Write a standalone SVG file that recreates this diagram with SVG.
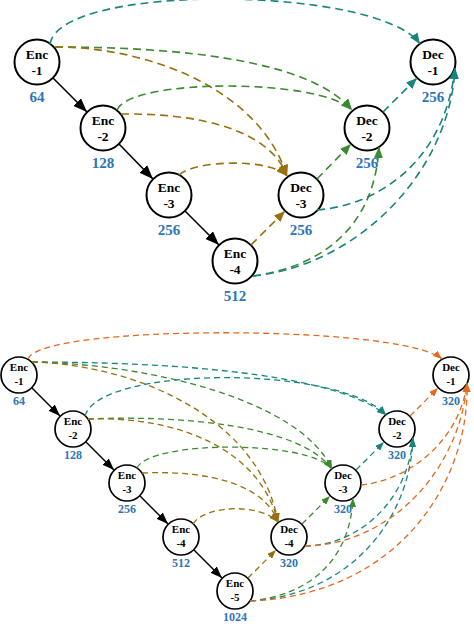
<svg xmlns="http://www.w3.org/2000/svg" width="474" height="641" viewBox="0 0 474 641">
<style>
.bg{fill:#fff}
circle{fill:#fff;stroke:#000}
.top circle{stroke-width:2}
.bot circle{stroke-width:1.7}
text{font-family:"Liberation Serif","Times New Roman",serif;font-weight:bold;text-anchor:middle}
.top .nm{font-size:13.5px;fill:#000}
.top .num{font-size:15px;fill:#2e75b6}
.bot .nm{font-size:11px;fill:#000}
.bot .num{font-size:12px;fill:#2e75b6}
.ct path,.cb path{fill:none}
.s{stroke:#000}
.ct .s{stroke-width:1.6}
.cb .s{stroke-width:1.4}
.ct .d{stroke-width:1.6;stroke-dasharray:8 5}
.cb .d{stroke-width:1.3;stroke-dasharray:6 4}
.teal{stroke:#17857b}
.green{stroke:#3b8a31}
.brown{stroke:#977010}
.orange{stroke:#e2691e}
</style>
<defs>
<marker id="tk" markerUnits="userSpaceOnUse" markerWidth="14" markerHeight="11" refX="14" refY="5.5" orient="auto"><path d="M0,0 L14,5.5 L0,11 z" fill="#000"/></marker>
<marker id="tt" markerUnits="userSpaceOnUse" markerWidth="11" markerHeight="9" refX="11" refY="4.5" orient="auto"><path d="M0,0 L11,4.5 L0,9 z" fill="#17857b"/></marker>
<marker id="tg" markerUnits="userSpaceOnUse" markerWidth="11" markerHeight="9" refX="11" refY="4.5" orient="auto"><path d="M0,0 L11,4.5 L0,9 z" fill="#3b8a31"/></marker>
<marker id="tb" markerUnits="userSpaceOnUse" markerWidth="11" markerHeight="9" refX="11" refY="4.5" orient="auto"><path d="M0,0 L11,4.5 L0,9 z" fill="#977010"/></marker>
<marker id="bk" markerUnits="userSpaceOnUse" markerWidth="12" markerHeight="9" refX="12" refY="4.5" orient="auto"><path d="M0,0 L12,4.5 L0,9 z" fill="#000"/></marker>
<marker id="bt" markerUnits="userSpaceOnUse" markerWidth="9" markerHeight="7" refX="9" refY="3.5" orient="auto"><path d="M0,0 L9,3.5 L0,7 z" fill="#17857b"/></marker>
<marker id="bg" markerUnits="userSpaceOnUse" markerWidth="9" markerHeight="7" refX="9" refY="3.5" orient="auto"><path d="M0,0 L9,3.5 L0,7 z" fill="#3b8a31"/></marker>
<marker id="bb" markerUnits="userSpaceOnUse" markerWidth="9" markerHeight="7" refX="9" refY="3.5" orient="auto"><path d="M0,0 L9,3.5 L0,7 z" fill="#977010"/></marker>
<marker id="bo" markerUnits="userSpaceOnUse" markerWidth="9" markerHeight="7" refX="9" refY="3.5" orient="auto"><path d="M0,0 L9,3.5 L0,7 z" fill="#e2691e"/></marker>
</defs>
<rect class="bg" x="0" y="0" width="474" height="641"/>

<!-- TOP DIAGRAM -->
<g class="top">
<g id="t-enc1"><circle cx="37" cy="62" r="22.5"/><text class="nm" x="37" y="59">Enc</text><text class="nm" x="37" y="75">-1</text><text class="num" x="37" y="102">64</text></g>
<g id="t-enc2"><circle cx="103" cy="128" r="22.5"/><text class="nm" x="103" y="125">Enc</text><text class="nm" x="103" y="141">-2</text><text class="num" x="103" y="168">128</text></g>
<g id="t-enc3"><circle cx="169" cy="195" r="22.5"/><text class="nm" x="169" y="192">Enc</text><text class="nm" x="169" y="208">-3</text><text class="num" x="169" y="235">256</text></g>
<g id="t-enc4"><circle cx="235" cy="261" r="22.5"/><text class="nm" x="235" y="258">Enc</text><text class="nm" x="235" y="274">-4</text><text class="num" x="235" y="301">512</text></g>
<g id="t-dec3"><circle cx="301" cy="195" r="22.5"/><text class="nm" x="301" y="192">Dec</text><text class="nm" x="301" y="208">-3</text><text class="num" x="301" y="235">256</text></g>
<g id="t-dec2"><circle cx="367" cy="128" r="22.5"/><text class="nm" x="367" y="125">Dec</text><text class="nm" x="367" y="141">-2</text><text class="num" x="367" y="168">256</text></g>
<g id="t-dec1"><circle cx="433" cy="62" r="22.5"/><text class="nm" x="433" y="59">Dec</text><text class="nm" x="433" y="75">-1</text><text class="num" x="433" y="102">256</text></g>
</g>

<g id="connectors-top" class="ct">
<path class="s" d="M53,78 L87,112" marker-end="url(#tk)"/>
<path class="s" d="M119,144 L153,179" marker-end="url(#tk)"/>
<path class="s" d="M185,211 L219,245" marker-end="url(#tk)"/>
<path class="d brown" d="M251,245 L285,211" marker-end="url(#tb)"/>
<path class="d green" d="M317,179 L351,144" marker-end="url(#tg)"/>
<path class="d teal" d="M383,112 L417,78" marker-end="url(#tt)"/>
<path class="d teal" d="M50,44 C60,-18 380,-14 420,44" marker-end="url(#tt)"/>
<path class="d green" d="M55,47 C180,47 310,60 352,110" marker-end="url(#tg)"/>
<path class="d brown" d="M55,47 C150,47 260,90 287,176" marker-end="url(#tb)"/>
<path class="d green" d="M117,110 C130,78 320,78 352,110" marker-end="url(#tg)"/>
<path class="d brown" d="M121,114 C200,113 270,130 287,176" marker-end="url(#tb)"/>
<path class="d brown" d="M179,175 C195,160 270,158 287,176" marker-end="url(#tb)"/>
<path class="d green" d="M253,276 C330,265 375,220 379,147" marker-end="url(#tg)"/>
<path class="d teal" d="M253,276 C360,265 450,170 455,68" marker-end="url(#tt)"/>
<path class="d teal" d="M317,210 C380,205 445,160 455,68" marker-end="url(#tt)"/>
</g>

<!-- BOTTOM DIAGRAM -->
<g class="bot">
<g id="b-enc1"><circle cx="19" cy="375" r="18"/><text class="nm" x="19" y="371">Enc</text><text class="nm" x="19" y="385">-1</text><text class="num" x="19" y="405">64</text></g>
<g id="b-enc2"><circle cx="73" cy="429" r="18"/><text class="nm" x="73" y="425">Enc</text><text class="nm" x="73" y="439">-2</text><text class="num" x="73" y="459">128</text></g>
<g id="b-enc3"><circle cx="127" cy="483" r="18"/><text class="nm" x="127" y="479">Enc</text><text class="nm" x="127" y="493">-3</text><text class="num" x="127" y="513">256</text></g>
<g id="b-enc4"><circle cx="181" cy="537" r="18"/><text class="nm" x="181" y="533">Enc</text><text class="nm" x="181" y="547">-4</text><text class="num" x="181" y="567">512</text></g>
<g id="b-enc5"><circle cx="235" cy="591" r="18"/><text class="nm" x="235" y="587">Enc</text><text class="nm" x="235" y="601">-5</text><text class="num" x="235" y="621">1024</text></g>
<g id="b-dec4"><circle cx="289" cy="537" r="18"/><text class="nm" x="289" y="533">Dec</text><text class="nm" x="289" y="547">-4</text><text class="num" x="289" y="567">320</text></g>
<g id="b-dec3"><circle cx="343" cy="483" r="18"/><text class="nm" x="343" y="479">Dec</text><text class="nm" x="343" y="493">-3</text><text class="num" x="343" y="513">320</text></g>
<g id="b-dec2"><circle cx="397" cy="429" r="18"/><text class="nm" x="397" y="425">Dec</text><text class="nm" x="397" y="439">-2</text><text class="num" x="397" y="459">320</text></g>
<g id="b-dec1"><circle cx="451" cy="375" r="18"/><text class="nm" x="451" y="371">Dec</text><text class="nm" x="451" y="385">-1</text><text class="num" x="451" y="405">320</text></g>
</g>

<g id="connectors-bottom" class="cb">
<path class="s" d="M32,388 L60,416" marker-end="url(#bk)"/>
<path class="s" d="M86,442 L114,470" marker-end="url(#bk)"/>
<path class="s" d="M140,496 L168,524" marker-end="url(#bk)"/>
<path class="s" d="M194,550 L222,578" marker-end="url(#bk)"/>
<path class="d brown" d="M248,578 L276,550" marker-end="url(#bb)"/>
<path class="d green" d="M302,524 L330,496" marker-end="url(#bg)"/>
<path class="d teal" d="M356,470 L384,442" marker-end="url(#bt)"/>
<path class="d orange" d="M410,416 L438,388" marker-end="url(#bo)"/>
<path class="d orange" d="M28,359 C40,324 400,324 442,359" marker-end="url(#bo)"/>
<path class="d teal" d="M32,362 C150,362 330,370 386,415" marker-end="url(#bt)"/>
<path class="d green" d="M32,362 C150,364 300,400 332,469" marker-end="url(#bg)"/>
<path class="d brown" d="M32,362 C140,365 260,420 278,522" marker-end="url(#bb)"/>
<path class="d teal" d="M85,416 C100,365 340,365 386,415" marker-end="url(#bt)"/>
<path class="d green" d="M88,419 C180,415 300,425 332,469" marker-end="url(#bg)"/>
<path class="d brown" d="M88,419 C180,416 260,450 278,522" marker-end="url(#bb)"/>
<path class="d green" d="M137,468 C150,440 310,440 332,469" marker-end="url(#bg)"/>
<path class="d brown" d="M142,473 C210,470 265,485 278,522" marker-end="url(#bb)"/>
<path class="d brown" d="M193,524 C205,505 260,503 278,522" marker-end="url(#bb)"/>
<path class="d green" d="M250,601 C310,595 350,560 353,498" marker-end="url(#bg)"/>
<path class="d teal" d="M250,601 C350,595 410,520 413,438" marker-end="url(#bt)"/>
<path class="d orange" d="M250,601 C400,595 470,480 467,383" marker-end="url(#bo)"/>
<path class="d teal" d="M305,546 C360,545 408,500 413,438" marker-end="url(#bt)"/>
<path class="d orange" d="M305,546 C390,545 460,470 467,383" marker-end="url(#bo)"/>
<path class="d orange" d="M361,485 C410,480 460,440 467,383" marker-end="url(#bo)"/>
</g>
</svg>
